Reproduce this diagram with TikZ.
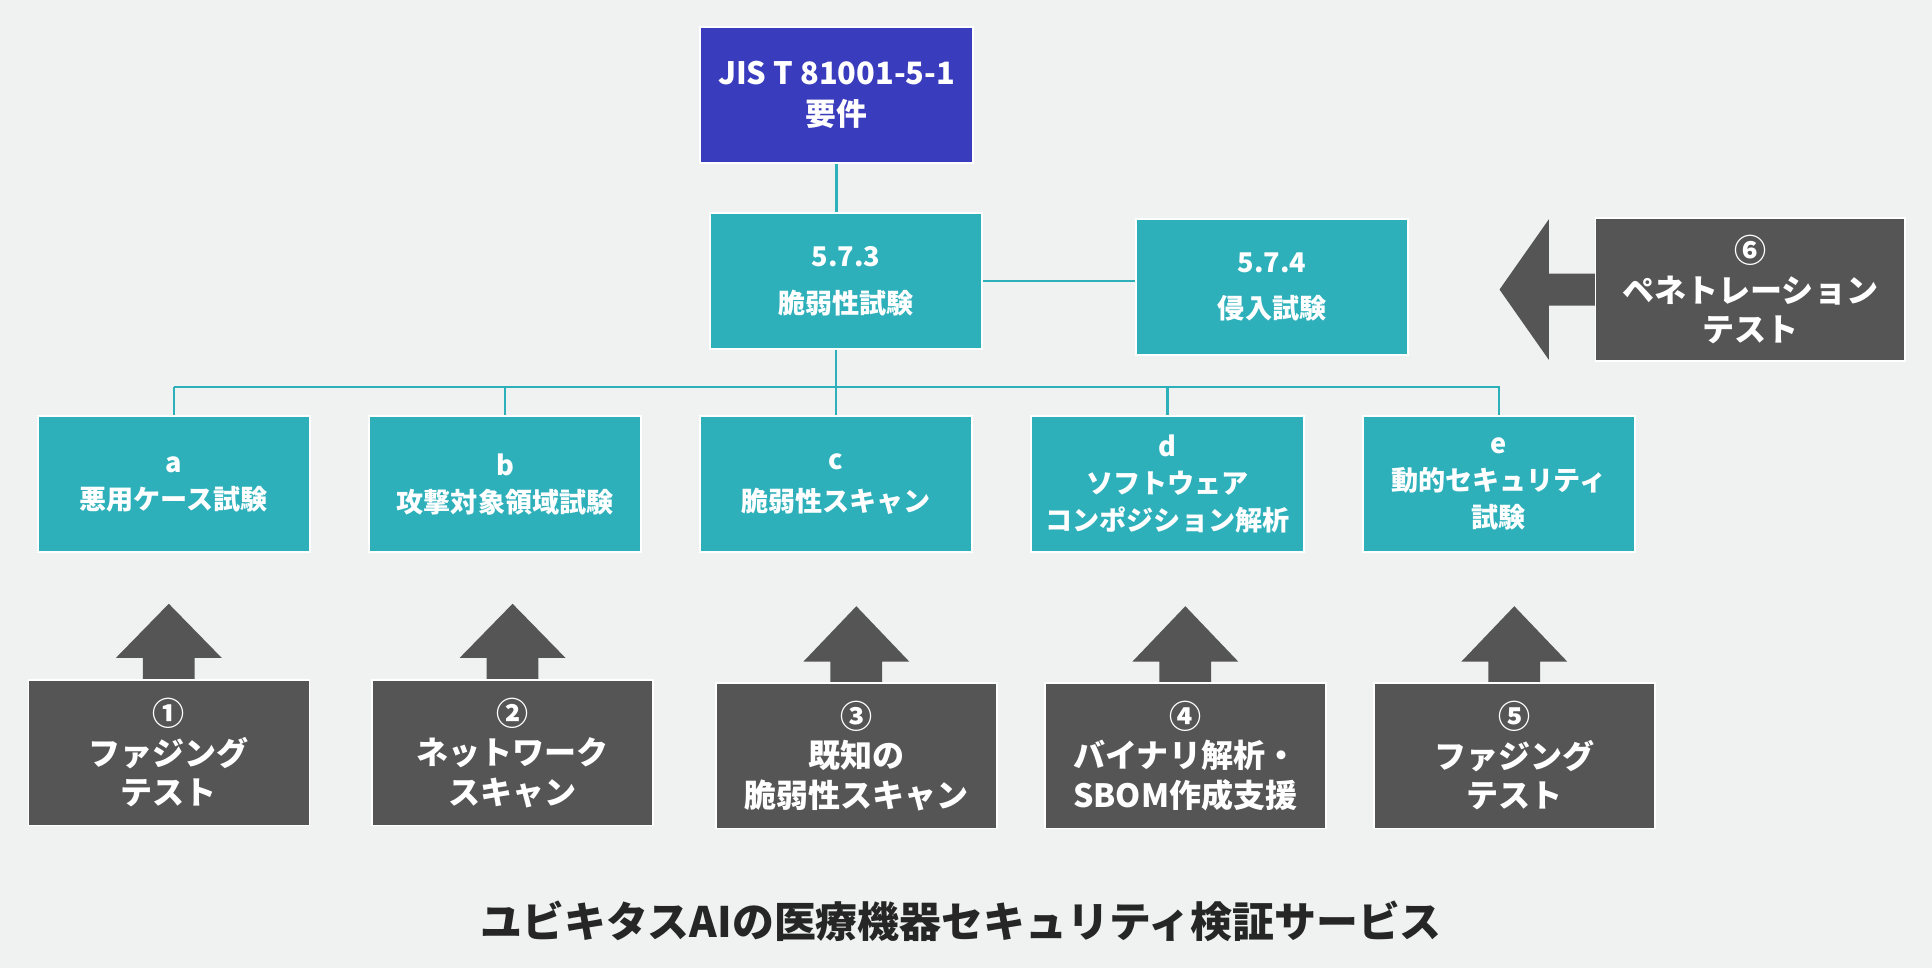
\documentclass[tikz,border=0pt]{standalone}
\usepackage{fontspec}
\setmainfont{Noto Sans CJK JP}
\definecolor{bg}{HTML}{F0F2F2}
\definecolor{teal}{HTML}{2EB0BB}
\definecolor{navy}{HTML}{3A3CBE}
\definecolor{dark}{HTML}{555555}
\begin{document}
\begin{tikzpicture}[x=0.5pt,y=-0.5pt,
 box/.style={fill=teal,draw=white,line width=0.8pt,text=white,font=\bfseries\fontsize{11}{15}\selectfont,align=center,minimum width=110.5pt,minimum height=55pt,inner sep=0pt},
 dbox/.style={fill=dark,draw=white,line width=0.6pt,text=white,font=\bfseries\fontsize{13}{16}\selectfont,align=center,minimum width=114pt,minimum height=59pt,inner sep=0pt},
 ln/.style={draw=teal,line width=1pt},
 arr/.style={fill=dark}]
\fill[bg] (0,0) rectangle (1568,786);
\node[box,fill=navy,font=\bfseries\fontsize{12.5}{17}\selectfont] (jis) at (679,77) {JIS T 81001-5-1\\要件};
\node[box] (s3) at (686.5,228) {5.7.3\\[4pt]脆弱性試験};
\node[box] (s4) at (1032.5,233) {5.7.4\\[4pt]侵入試験};
\node[box] (a) at (141,393) {a\\悪用ケース試験};
\node[box] (b) at (410,393) {b\\攻撃対象領域試験};
\node[box] (c) at (678.5,393) {c\\[2pt]脆弱性スキャン};
\node[box] (d) at (947.5,393) {d\\ソフトウェア\\コンポジション解析};
\node[box] (e) at (1216.5,393) {e\\動的セキュリティ\\試験};
\draw[ln] (jis.south) -- (s3.north -| jis.south);
\draw[ln] (s3.east) -- (s3.east -| s4.west);
\coordinate (bl) at (141,314);
\coordinate (br) at (1217,314);
\draw[ln] (bl) -- (br);
\draw[ln] (s3.south -| c.north) -- (c.north);
\foreach \n in {a,b,d,e} \draw[ln] (\n.north |- bl) -- (\n.north);
% up arrows
\foreach \cx/\ty/\by in {137/490/552,416/490/552,695/492/555,962/492/555,1229/492/555}
  \fill[dark] (\cx,\ty) -- (\cx+43,\by-18) -- (\cx+21,\by-18) -- (\cx+21,\by+2) -- (\cx-21,\by+2) -- (\cx-21,\by-18) -- (\cx-43,\by-18) -- cycle;
\node[dbox] (d1) at (137,611) {①\\ファジング\\テスト};
\node[dbox] (d2) at (416,611) {②\\ネットワーク\\スキャン};
\node[dbox] (d3) at (695,613.5) {③\\既知の\\脆弱性スキャン};
\node[dbox] (d4) at (962,613.5) {④\\バイナリ解析・\\SBOM作成支援};
\node[dbox] (d5) at (1229,613.5) {⑤\\ファジング\\テスト};
\fill[dark] (1217,235) -- (1257,178) -- (1257,222) -- (1297,222) -- (1297,248) -- (1257,248) -- (1257,292) -- cycle;
\node[dbox,minimum width=125.5pt,minimum height=58pt] (d6) at (1420.5,235) {⑥\\ペネトレーション\\テスト};
\node[font=\bfseries\fontsize{17}{20}\selectfont,text=black!85] (t) at (780,748) {ユビキタスAIの医療機器セキュリティ検証サービス};
\end{tikzpicture}
\end{document}
